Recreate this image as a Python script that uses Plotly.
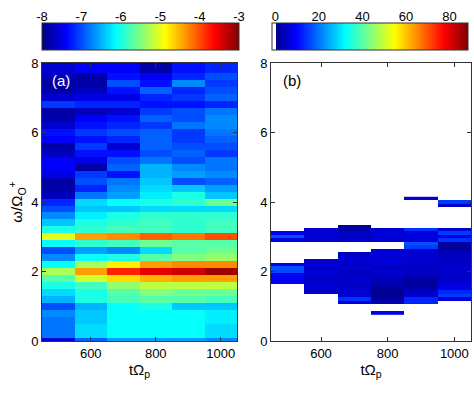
import plotly.graph_objects as go

# ---------------- data ----------------
t_centers = [500, 600, 700, 800, 900, 1000]

# panel (a): log10 power, rows listed from top (w=8.0) to bottom (w=0.0)
w_a_desc = [8.0, 7.8, 7.6, 7.4, 7.2, 7.0, 6.8, 6.6, 6.4, 6.2, 6.0, 5.8, 5.6, 5.4,
            5.2, 5.0, 4.8, 4.6, 4.4, 4.2, 4.0, 3.8, 3.6, 3.4, 3.2, 3.0, 2.8, 2.6,
            2.4, 2.2, 2.0, 1.8, 1.6, 1.4, 1.2, 1.0, 0.8, 0.6, 0.4, 0.2, 0.0]
z_a_desc = [
    [-7.6, -7.4, -7.4, -7.8, -7.3, -7.2],
    [-7.6, -7.4, -7.4, -7.8, -7.3, -7.2],
    [-7.7, -7.8, -7.3, -7.4, -7.2, -7.0],
    [-7.8, -7.8, -7.0, -7.3, -6.7, -7.1],
    [-7.8, -7.7, -7.3, -6.9, -7.2, -7.0],
    [-7.6, -7.5, -7.5, -7.2, -7.1, -6.9],
    [-7.1, -7.2, -7.2, -7.3, -7.3, -7.2],
    [-7.8, -7.7, -7.6, -7.1, -7.0, -6.8],
    [-7.8, -7.4, -7.3, -6.9, -7.0, -6.7],
    [-7.6, -7.3, -7.2, -7.1, -6.8, -6.7],
    [-7.3, -7.1, -7.0, -6.9, -7.1, -6.8],
    [-7.4, -7.3, -7.2, -6.9, -7.1, -6.9],
    [-7.8, -7.1, -7.6, -6.9, -7.0, -7.0],
    [-7.7, -7.3, -7.3, -7.0, -6.9, -7.1],
    [-7.4, -7.5, -7.0, -6.8, -7.0, -6.8],
    [-7.4, -7.8, -6.9, -6.5, -6.7, -6.8],
    [-7.5, -7.1, -7.3, -6.5, -6.6, -6.7],
    [-7.8, -7.0, -6.8, -6.4, -7.0, -6.9],
    [-7.8, -7.2, -6.7, -6.3, -6.4, -6.6],
    [-7.7, -6.8, -6.6, -6.2, -6.0, -6.4],
    [-7.2, -6.3, -6.1, -6.0, -5.9, -5.6],
    [-7.0, -6.4, -6.4, -6.3, -6.3, -6.3],
    [-6.7, -6.2, -6.0, -5.9, -5.9, -5.9],
    [-6.4, -6.0, -5.9, -5.8, -5.9, -5.8],
    [-6.0, -5.9, -5.8, -5.8, -5.9, -5.8],
    [-5.0, -4.4, -4.3, -4.1, -4.2, -4.0],
    [-6.1, -5.9, -5.8, -5.6, -5.7, -5.7],
    [-7.0, -6.6, -6.7, -6.3, -5.7, -5.6],
    [-6.7, -6.1, -6.0, -5.7, -5.5, -5.4],
    [-6.1, -5.3, -4.8, -4.4, -4.3, -4.3],
    [-5.3, -4.4, -3.8, -3.5, -3.4, -3.15],
    [-5.7, -5.1, -4.7, -4.5, -4.4, -4.4],
    [-6.0, -5.8, -5.4, -5.2, -5.2, -5.2],
    [-6.3, -6.0, -5.7, -5.5, -5.6, -5.6],
    [-6.5, -6.0, -5.8, -5.7, -5.7, -5.8],
    [-7.0, -6.5, -6.1, -6.0, -6.4, -6.4],
    [-6.7, -6.4, -6.1, -6.1, -6.1, -6.2],
    [-6.8, -6.4, -6.1, -6.1, -6.1, -6.2],
    [-6.8, -6.3, -6.1, -6.1, -6.1, -6.3],
    [-6.8, -6.3, -6.1, -6.1, -6.1, -6.3],
    [-7.6, -6.9, -6.6, -6.6, -6.6, -6.7],
]

# panel (b): rows listed from top (w=4.1) to bottom (w=0.8); 0 = empty (white)
w_b_desc = [4.1, 4.0, 3.9, 3.8, 3.7, 3.6, 3.5, 3.4, 3.3, 3.2, 3.1, 3.0, 2.9, 2.8,
            2.7, 2.6, 2.5, 2.4, 2.3, 2.2, 2.1, 2.0, 1.9, 1.8, 1.7, 1.6, 1.5, 1.4,
            1.3, 1.2, 1.1, 1.0, 0.9, 0.8]
z_b_desc = [
    [0, 0, 0, 0, 7, 0],
    [0, 0, 0, 0, 0, 15],
    [0, 0, 0, 0, 0, 5],
    [0, 0, 0, 0, 0, 0],
    [0, 0, 0, 0, 0, 0],
    [0, 0, 0, 0, 0, 0],
    [0, 0, 0, 0, 0, 0],
    [0, 0, 0, 0, 0, 0],
    [0, 0, 2, 0, 0, 0],
    [0, 6, 3, 6, 14, 6],
    [9, 6, 5, 7, 7, 15],
    [17, 7, 5, 6, 7, 7],
    [8, 6, 6, 6, 7, 14],
    [0, 0, 0, 0, 17, 2],
    [0, 0, 0, 0, 15, 2],
    [0, 0, 0, 7, 7, 2],
    [0, 0, 5, 7, 6, 5],
    [0, 0, 6, 6, 6, 5],
    [0, 6, 6, 7, 6, 5],
    [9, 7, 5, 6, 5, 5],
    [17, 5, 6, 5, 5, 6],
    [16, 7, 5, 6, 5, 6],
    [9, 6, 5, 5, 4, 5],
    [9, 5, 5, 4, 3, 5],
    [8, 6, 6, 4, 2, 6],
    [0, 6, 5, 3, 2, 7],
    [0, 5, 6, 2, 3, 8],
    [0, 6, 6, 1, 5, 13],
    [0, 0, 6, 1, 6, 15],
    [0, 0, 14, 2, 13, 7],
    [0, 0, 7, 4, 13, 0],
    [0, 0, 0, 0, 0, 0],
    [0, 0, 0, 0, 0, 0],
    [0, 0, 0, 8, 0, 0],
]

x_ticks = [600, 800, 1000]
y_ticks = [0, 2, 4, 6, 8]
cb_a_ticks = [-8, -7, -6, -5, -4, -3]
cb_a_text = ["-8", "-7", "-6", "-5", "-4", "-3"]
cb_b_ticks = [0, 20, 40, 60, 80]

# ---------------- style ----------------
jet = [[0.0, "rgb(0,0,128)"], [0.125, "rgb(0,0,255)"], [0.375, "rgb(0,255,255)"],
       [0.625, "rgb(255,255,0)"], [0.875, "rgb(255,0,0)"], [1.0, "rgb(128,0,0)"]]
jet_w = [[0.0, "white"], [0.02, "white"], [0.02, "rgb(0,0,138)"],
         [0.125, "rgb(0,0,255)"], [0.375, "rgb(0,255,255)"],
         [0.625, "rgb(255,255,0)"], [0.875, "rgb(255,0,0)"], [1.0, "rgb(128,0,0)"]]
ZA = (-8, -3)
ZB = (-1.5, 88.5)

FONT = dict(family="Liberation Sans, Arial, sans-serif", size=13, color="black")
TFONT = dict(family="Liberation Sans, Arial, sans-serif", size=15, color="black")

W, H = 474, 397
ML, MR, MT, MB = 42, 3, 20, 56
PW, PH = W - ML - MR, H - MT - MB
def px_x(p):
    return (p - ML) / PW
def px_y(p):
    return (H - MB - p) / PH

dom_a = [px_x(42), px_x(237)]
dom_b = [px_x(271), px_x(471)]
dom_y = [0, px_y(63)]
cb_a = [px_x(42), px_x(239)]
cb_b = [px_x(272), px_x(468)]
cb_y = [px_y(51.5), px_y(24.5)]

fig = go.Figure()
fig.add_trace(go.Heatmap(
    x=t_centers, y=w_a_desc[::-1], z=z_a_desc[::-1],
    colorscale=jet, zmin=ZA[0], zmax=ZA[1], xaxis="x", yaxis="y",
    colorbar=dict(orientation="h", x=(cb_a[0] + cb_a[1]) / 2, xanchor="center",
                  y=cb_y[0], yanchor="bottom", len=cb_a[1] - cb_a[0], lenmode="fraction",
                  thickness=27, xpad=0, ypad=0, outlinewidth=1, outlinecolor="#333",
                  showticklabels=False, ticks=""),
    hoverinfo="skip"))
fig.add_trace(go.Heatmap(
    x=t_centers, y=w_b_desc[::-1], z=z_b_desc[::-1],
    colorscale=jet_w, zmin=ZB[0], zmax=ZB[1], xaxis="x2", yaxis="y2",
    colorbar=dict(orientation="h", x=(cb_b[0] + cb_b[1]) / 2, xanchor="center",
                  y=cb_y[0], yanchor="bottom", len=cb_b[1] - cb_b[0], lenmode="fraction",
                  thickness=27, xpad=0, ypad=0, outlinewidth=1, outlinecolor="#333",
                  showticklabels=False, ticks=""),
    hoverinfo="skip"))
# empty traces that carry the colorbar label axes
fig.add_trace(go.Scatter(x=[], y=[], xaxis="x3", yaxis="y3", showlegend=False))
fig.add_trace(go.Scatter(x=[], y=[], xaxis="x4", yaxis="y4", showlegend=False))

ax_common = dict(showgrid=False, zeroline=False, ticks="inside", ticklen=4,
                 showline=True, linecolor="#333", linewidth=1, mirror="ticks",
                 tickcolor="#333", tickfont=FONT)
fig.update_layout(
    width=W, height=H, margin=dict(l=ML, r=MR, t=MT, b=MB, autoexpand=False),
    paper_bgcolor="white", plot_bgcolor="white", font=FONT, showlegend=False,
    xaxis=dict(domain=dom_a, anchor="y", range=[450, 1050], tickvals=x_ticks,
               title=dict(text="tΩ<sub>p</sub>", font=TFONT, standoff=3), **ax_common),
    yaxis=dict(domain=dom_y, anchor="x", range=[0, 8], tickvals=y_ticks,
               title=dict(text="ω/Ω<sub>O</sub><sup>+</sup>", font=TFONT, standoff=4), **ax_common),
    xaxis2=dict(domain=dom_b, anchor="y2", range=[450, 1050], tickvals=x_ticks,
                title=dict(text="tΩ<sub>p</sub>", font=TFONT, standoff=3), **ax_common),
    yaxis2=dict(domain=dom_y, anchor="x2", range=[0, 8], tickvals=y_ticks, **ax_common),
    xaxis3=dict(domain=cb_a, anchor="y3", range=list(ZA), side="top",
                tickvals=cb_a_ticks, ticktext=cb_a_text, ticks="", showline=False,
                showgrid=False, zeroline=False, tickfont=FONT),
    yaxis3=dict(domain=cb_y, anchor="x3", range=[0, 1], visible=False),
    xaxis4=dict(domain=cb_b, anchor="y4", range=list(ZB), side="top",
                tickvals=cb_b_ticks, ticks="", showline=False,
                showgrid=False, zeroline=False, tickfont=FONT),
    yaxis4=dict(domain=cb_y, anchor="x4", range=[0, 1], visible=False),
    annotations=[
        dict(text="(a)", xref="x domain", yref="y domain", x=0.04, y=0.975,
             xanchor="left", yanchor="top", showarrow=False,
             font=dict(family=FONT["family"], size=15, color="white")),
        dict(text="(b)", xref="x2 domain", yref="y2 domain", x=0.05, y=0.975,
             xanchor="left", yanchor="top", showarrow=False,
             font=dict(family=FONT["family"], size=15, color="black")),
    ],
)

fig.write_html("out.html", config={"displayModeBar": False},
               post_script="document.body.style.margin='0';document.body.style.overflow='hidden';")
